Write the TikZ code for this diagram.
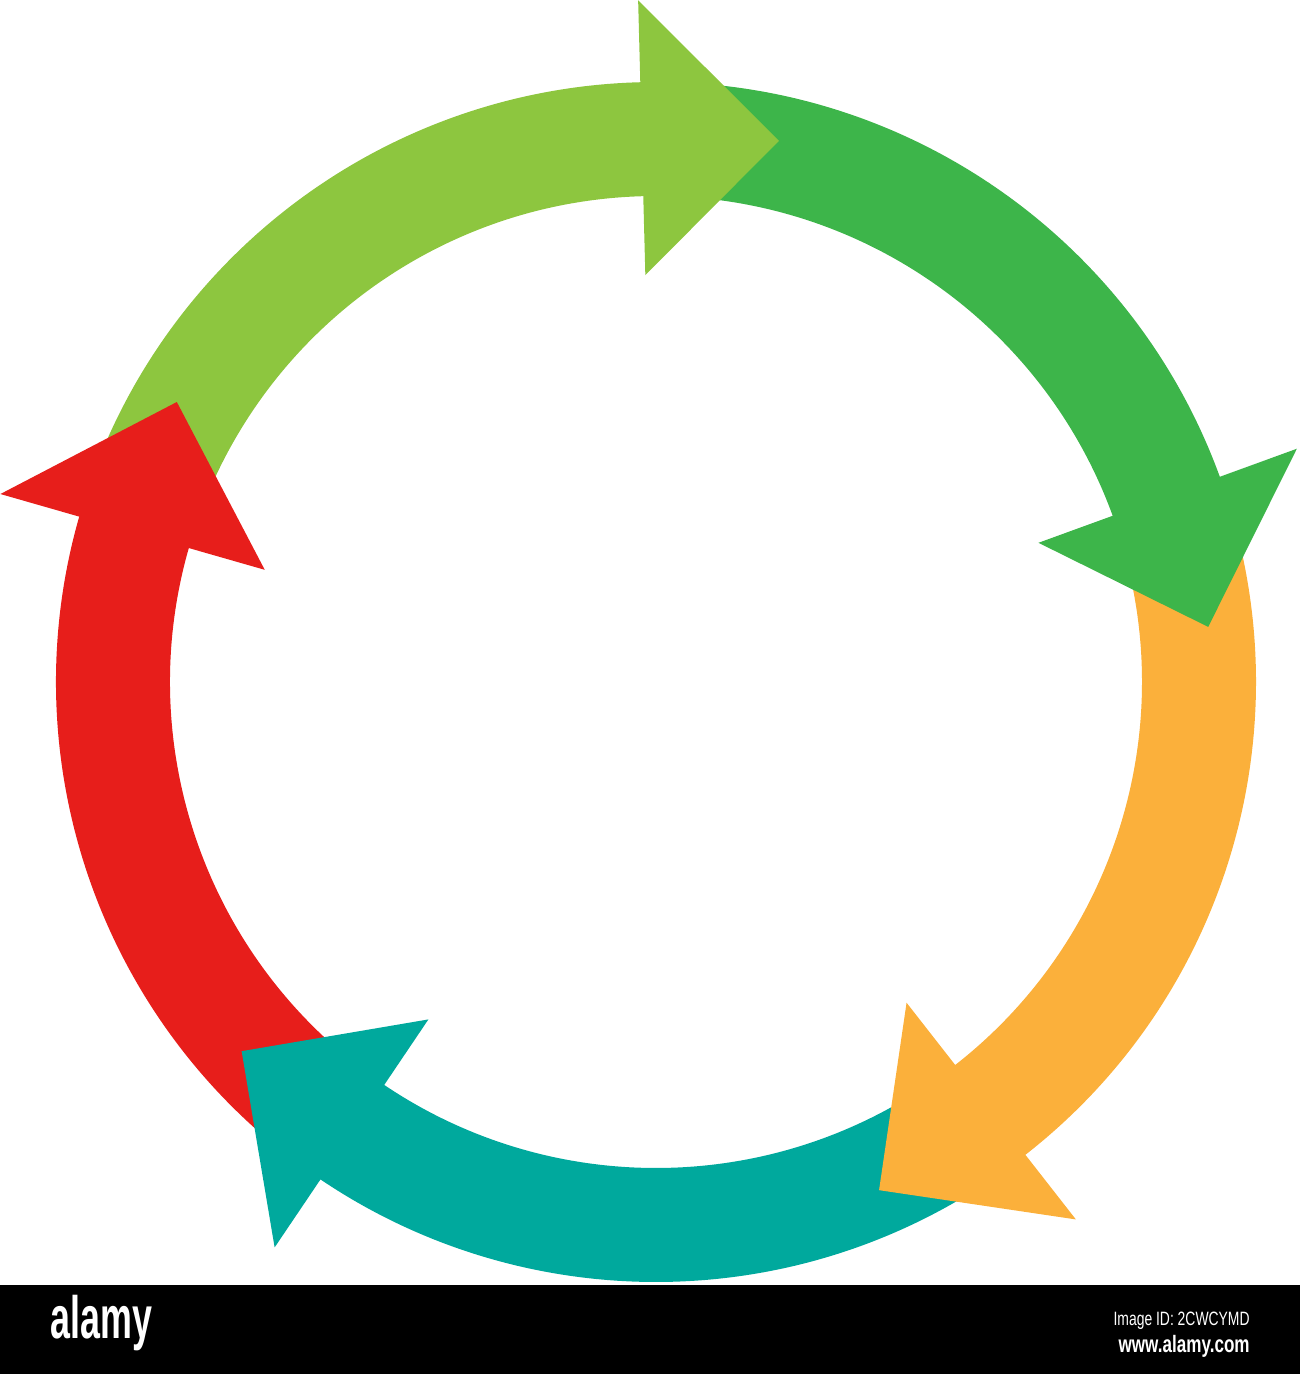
\documentclass[tikz,border=0pt]{standalone}
\usepackage{fontspec}
\newfontfamily\barfont[FakeStretch=0.72]{Liberation Sans}
\newfontfamily\logofont[FakeStretch=0.6]{Liberation Sans}
\definecolor{cycLime}{HTML}{8DC63F}
\definecolor{cycGreen}{HTML}{3DB54A}
\definecolor{cycOrange}{HTML}{FBB03B}
\definecolor{cycTeal}{HTML}{00A99D}
\definecolor{cycRed}{HTML}{E71E1B}

\begin{document}
\begin{tikzpicture}[x=0.02cm,y=0.02cm,
		bartext/.style={text=white,inner sep=0pt}]
		\useasboundingbox (-656,-692) rectangle (644,682);
		% ring pieces first (running a little under their heads), heads on top
		\foreach \col/\from/\to in {cycLime/160/89.5, cycGreen/88/18, cycOrange/16/-54, cycTeal/-56/-126, cycRed/-128/-198}
			\fill[\col] (\from:600) arc[start angle=\from, end angle=\to, radius=600]
				-- (\to:486) arc[start angle=\to, end angle=\from, radius=486] -- cycle;
		\foreach \col/\to in {cycLime/91.5, cycGreen/20, cycOrange/-52, cycTeal/-124, cycRed/-196}
			\fill[\col] (\to:407) -- (\to:682) -- ({\to-14.3}:555) -- cycle;
		
		% bottom bar
		\fill[black] (-656,-603) rectangle (644,-692);
		\node [bartext,anchor=base west,font=\logofont\bfseries\fontsize{34}{34}\selectfont] (logo) at (-606,-656) {alamy};
		\node [bartext,anchor=base east,font=\barfont\fontsize{11}{11}\selectfont] (imgid) at (594,-643) {Image ID: 2CWCYMD};
		\node [bartext,anchor=base east,font=\barfont\bfseries\fontsize{13.5}{13.5}\selectfont] (web) at (594,-670) {www.alamy.com};
\end{tikzpicture}
\end{document}
